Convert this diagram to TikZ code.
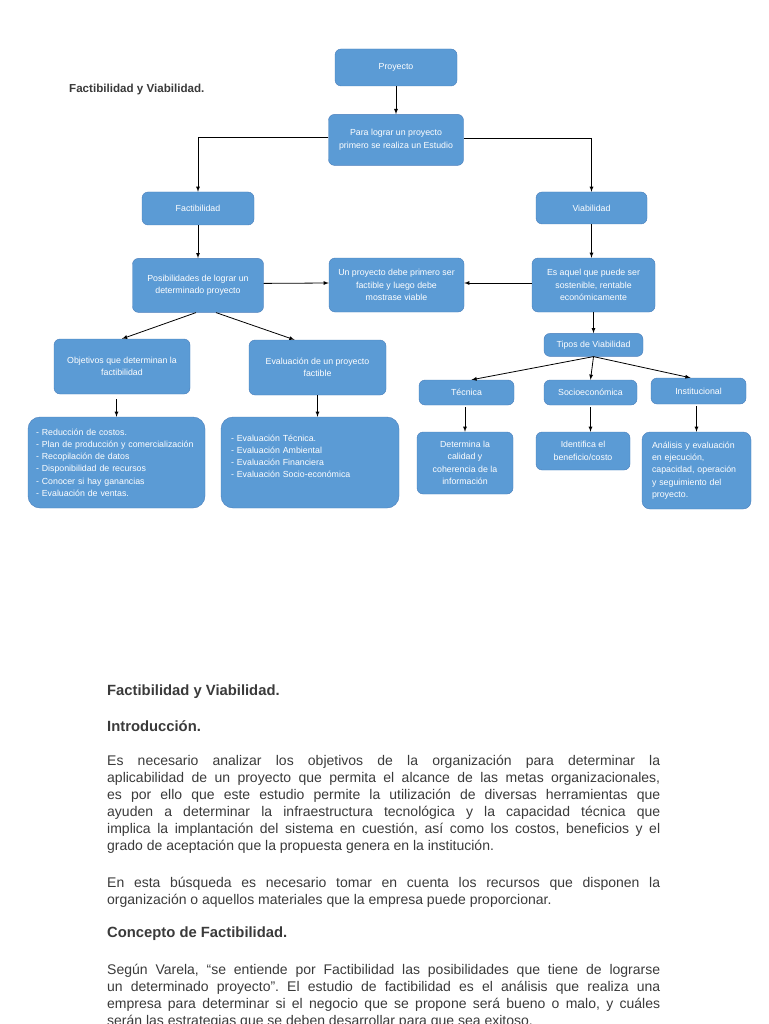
\documentclass[tikz,border=0pt]{standalone}
\usepackage{fontspec}
\setmainfont{Liberation Sans}
\usepackage{xcolor}
\usepackage{tikz}
\usetikzlibrary{shapes,arrows,positioning}

\definecolor{cajaazul}{HTML}{5B9BD5}
\definecolor{bordeazul}{HTML}{4A7EBB}
\definecolor{textogris}{HTML}{3A3A3A}

\frenchspacing

\tikzset{
    caja/.style={draw=bordeazul, fill=cajaazul, rectangle, rounded corners=6pt, text=white,
        align=center, inner sep=2pt, font=\fontsize{8.8}{12.5}\selectfont},
    lista/.style={caja, rounded corners=12pt, align=left, inner xsep=10pt, font=\fontsize{8.8}{12.2}\selectfont},
    flecha/.style={->, >=latex, black, line width=0.8pt},
    titulo/.style={anchor=base west, inner sep=0pt, text=textogris, font=\bfseries\fontsize{14.8}{17}\selectfont},
    parrafo/.style={anchor=north west, inner sep=0pt, text width=553pt, align=justify, text=textogris,
        font=\fontsize{14}{17}\selectfont}
}

\begin{document}
\begin{tikzpicture}[x=1pt, y=-1pt]
    \useasboundingbox (0,0) rectangle (768,1024);

    \node[anchor=base west, inner sep=0pt, text=textogris, font=\bfseries\fontsize{11.6}{13}\selectfont] (cabecera) at (69,93) {Factibilidad y Viabilidad.};

    \node[caja, minimum width=122pt, minimum height=37pt] (proyecto) at (396,67.5) {Proyecto};
    \node[caja, minimum width=135pt, minimum height=51pt, below=28pt of proyecto] (estudio) {Para lograr un proyecto\\primero se realiza un Estudio};
    \node[caja, minimum width=112pt, minimum height=33pt] (factib) at (198,208.5) {Factibilidad};
    \node[caja, minimum width=111pt, minimum height=32pt] (viab) at (591.5,208) {Viabilidad};

    \node[caja, minimum width=131pt, minimum height=54pt, below=33pt of factib] (posib) {Posibilidades de lograr un\\determinado proyecto};
    \node[caja, minimum width=135pt, minimum height=54pt] (unproy) at (396.5,285) {Un proyecto debe primero ser\\factible y luego debe\\mostrase viable};
    \node[caja, minimum width=123pt, minimum height=54pt] (esaquel) at (593.5,285) {Es aquel que puede ser\\sostenible, rentable\\económicamente};

    \node[caja, minimum width=136pt, minimum height=55pt] (objetivos) at (122,366.5) {Objetivos que determinan la\\factibilidad};
    \node[caja, minimum width=137pt, minimum height=55pt] (evalua) at (317.5,367.5) {Evaluación de un proyecto\\factible};
    \node[lista, inner xsep=8pt, text width=161pt, minimum height=91pt] (lista1) at (116.5,462.5) {- Reducción de costos.\\- Plan de producción y comercialización\\- Recopilación de datos\\- Disponibilidad de recursos\\- Conocer si hay ganancias\\- Evaluación de ventas.};
    \node[lista, text width=158pt, minimum height=91pt] (lista2) at (310,462.5) {- Evaluación Técnica.\\- Evaluación Ambiental\\- Evaluación Financiera\\- Evaluación Socio-económica\\ \mbox{}};

    \node[caja, minimum width=99pt, minimum height=23pt, below=21pt of esaquel] (tipos) {Tipos de Viabilidad};
    \node[caja, minimum width=95pt, minimum height=25pt] (tecnica) at (466.5,392.5) {Técnica};
    \node[caja, minimum width=93pt, minimum height=25pt] (socio) at (590.5,392.5) {Socioeconómica};
    \node[caja, minimum width=95pt, minimum height=26pt] (instit) at (698.5,391) {Institucional};
    \node[caja, minimum width=96pt, minimum height=62pt] (determina) at (465,463) {Determina la\\calidad y\\coherencia de la\\información};
    \node[caja, minimum width=94pt, minimum height=38pt] (identifica) at (583,451) {Identifica el\\beneficio/costo};
    \node[lista, rounded corners=8pt, text width=89pt, minimum height=77pt] (analisis) at (696.5,470.5) {Análisis y evaluación\\en ejecución,\\capacidad, operación\\y seguimiento del\\proyecto.};

    \draw[flecha] (proyecto) -- (estudio);
    \draw[flecha] ([yshift=2.5pt]estudio.west) -| (factib.north);
    \draw[flecha] ([yshift=1.5pt]estudio.east) -| (viab.north);
    \draw[flecha] (factib) -- (posib);
    \draw[flecha] (viab.south) -- (viab.south |- esaquel.north);
    \draw[flecha] ([yshift=2pt]posib.east) -- ([yshift=2pt]unproy.west);
    \draw[flecha] ([yshift=2pt]esaquel.west) -- ([yshift=2pt]unproy.east);
    \draw[flecha] ([xshift=-2pt]posib.south) -- (objetivos.north);
    \draw[flecha] ([xshift=18pt]posib.south) -- ([xshift=-23pt]evalua.north);
    \draw[flecha, shorten <=5pt] (objetivos.south -| lista1.north) -- (lista1.north);
    \draw[flecha] (evalua.south) -- (evalua.south |- lista2.north);
    \draw[flecha] (esaquel.south) -- (esaquel.south |- tipos.north);
    \draw[flecha] (tipos.south) -- ([xshift=5pt]tecnica.north);
    \draw[flecha] (tipos.south) -- (socio.north);
    \draw[flecha] (tipos.south) -- ([xshift=-8pt]instit.north);
    \draw[flecha, shorten <=2pt] (tecnica.south -| determina.north) -- (determina.north);
    \draw[flecha, shorten <=2pt] (socio.south) -- (socio.south |- identifica.north);
    \draw[flecha, shorten <=2pt] (instit.south -| analisis.north) -- (analisis.north);

    \node[titulo] (titulo) at (107,695) {Factibilidad y Viabilidad.};
    \node[titulo] (intro) at (107,731) {Introducción.};
    \node[parrafo] (parrafo1) at (107,754.5) {Es necesario analizar los objetivos de la organización para determinar la\linebreak
        aplicabilidad de un proyecto que permita el alcance de las metas organizacionales,\linebreak
        es por ello que este estudio permite la utilización de diversas herramientas que\linebreak
        ayuden a determinar la infraestructura tecnológica y la capacidad técnica que\linebreak
        implica la implantación del sistema en cuestión, así como los costos, beneficios y el\linebreak
        grado de aceptación que la propuesta genera en la institución.};
    \node[parrafo] (parrafo2) at (107,876.5) {En esta búsqueda es necesario tomar en cuenta los recursos que disponen la\linebreak
        organización o aquellos materiales que la empresa puede proporcionar.};
    \node[titulo] (concepto) at (107,937) {Concepto de Factibilidad.};
    \node[parrafo] (parrafo3) at (107,963.5) {Según Varela, “se entiende por Factibilidad las posibilidades que tiene de lograrse\linebreak
        un determinado proyecto”. El estudio de factibilidad es el análisis que realiza una\linebreak
        empresa para determinar si el negocio que se propone será bueno o malo, y cuáles\linebreak
        serán las estrategias que se deben desarrollar para que sea exitoso.};
\end{tikzpicture}
\end{document}
